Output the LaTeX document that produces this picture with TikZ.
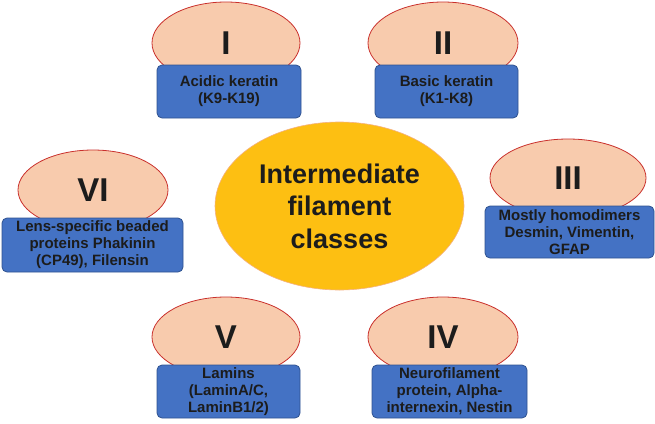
\documentclass[tikz,border=0pt]{standalone}
\usepackage{fontspec}
\setmainfont{Liberation Sans}
\usepackage{xcolor}
\usetikzlibrary{shapes.geometric}
\definecolor{class_peach}{HTML}{F8CBAD}
\definecolor{class_red}{HTML}{C9302C}
\definecolor{class_blue}{HTML}{4472C4}
\definecolor{class_border}{HTML}{2F528F}
\definecolor{hub_yellow}{HTML}{FDBF12}
\definecolor{hub_edge}{HTML}{F4B183}
\definecolor{ink}{HTML}{1C1C1C}

\tikzset{
    numeral/.style={ellipse, draw=class_red, fill=class_peach, line width=0.8pt, inner sep=0pt,
        text=ink, font=\bfseries\fontsize{33}{36}\selectfont},
    infobox/.style={draw=class_border, fill=class_blue, line width=0.8pt, rounded corners=5pt,
        inner sep=0pt, align=center, text=ink, font=\bfseries\fontsize{15}{17}\selectfont},
    hub/.style={ellipse, draw=hub_edge, fill=hub_yellow, line width=0.6pt, inner sep=0pt,
        align=center, text=ink, font=\bfseries\fontsize{27}{32.5}\selectfont}
}

\begin{document}
\begin{tikzpicture}[x=1pt, y=-1pt]
    \useasboundingbox (0,0) rectangle (655,423);
    % centre
    \node[hub, minimum width=249pt, minimum height=168pt] (hub) at (339.5,206) {Intermediate\\filament\\classes};
    % class I
    \node[numeral, minimum width=148pt, minimum height=82pt] (cI) at (226,43) {I};
    \node[infobox, minimum width=144pt, minimum height=53pt] (bI) at (229,91.5) {Acidic keratin\\(K9-K19)};
    % class II
    \node[numeral, minimum width=150pt, minimum height=82pt] (cII) at (443,43) {II};
    \node[infobox, minimum width=143pt, minimum height=53pt] (bII) at (446.5,91.5) {Basic keratin\\(K1-K8)};
    % class III
    \node[numeral, minimum width=156pt, minimum height=78pt] (cIII) at (568,178) {III};
    \node[infobox, minimum width=169pt, minimum height=52pt] (bIII) at (569.5,232) {Mostly homodimers\\Desmin, Vimentin,\\GFAP};
    % class IV
    \node[numeral, minimum width=150pt, minimum height=80pt] (cIV) at (443,337) {IV};
    \node[infobox, minimum width=155pt, minimum height=53pt] (bIV) at (449.5,391.5) {Neurofilament\\protein, Alpha-\\internexin, Nestin};
    % class V
    \node[numeral, minimum width=148pt, minimum height=80pt] (cV) at (226,337) {V};
    \node[infobox, minimum width=143pt, minimum height=53pt] (bV) at (228.5,391.5) {Lamins\\(LaminA/C,\\LaminB1/2)};
    % class VI
    \node[numeral, minimum width=150pt, minimum height=80pt] (cVI) at (93,190) {VI};
    \node[infobox, minimum width=181pt, minimum height=54pt] (bVI) at (92.5,245) {Lens-specific beaded\\proteins Phakinin\\(CP49), Filensin};
\end{tikzpicture}
\end{document}
